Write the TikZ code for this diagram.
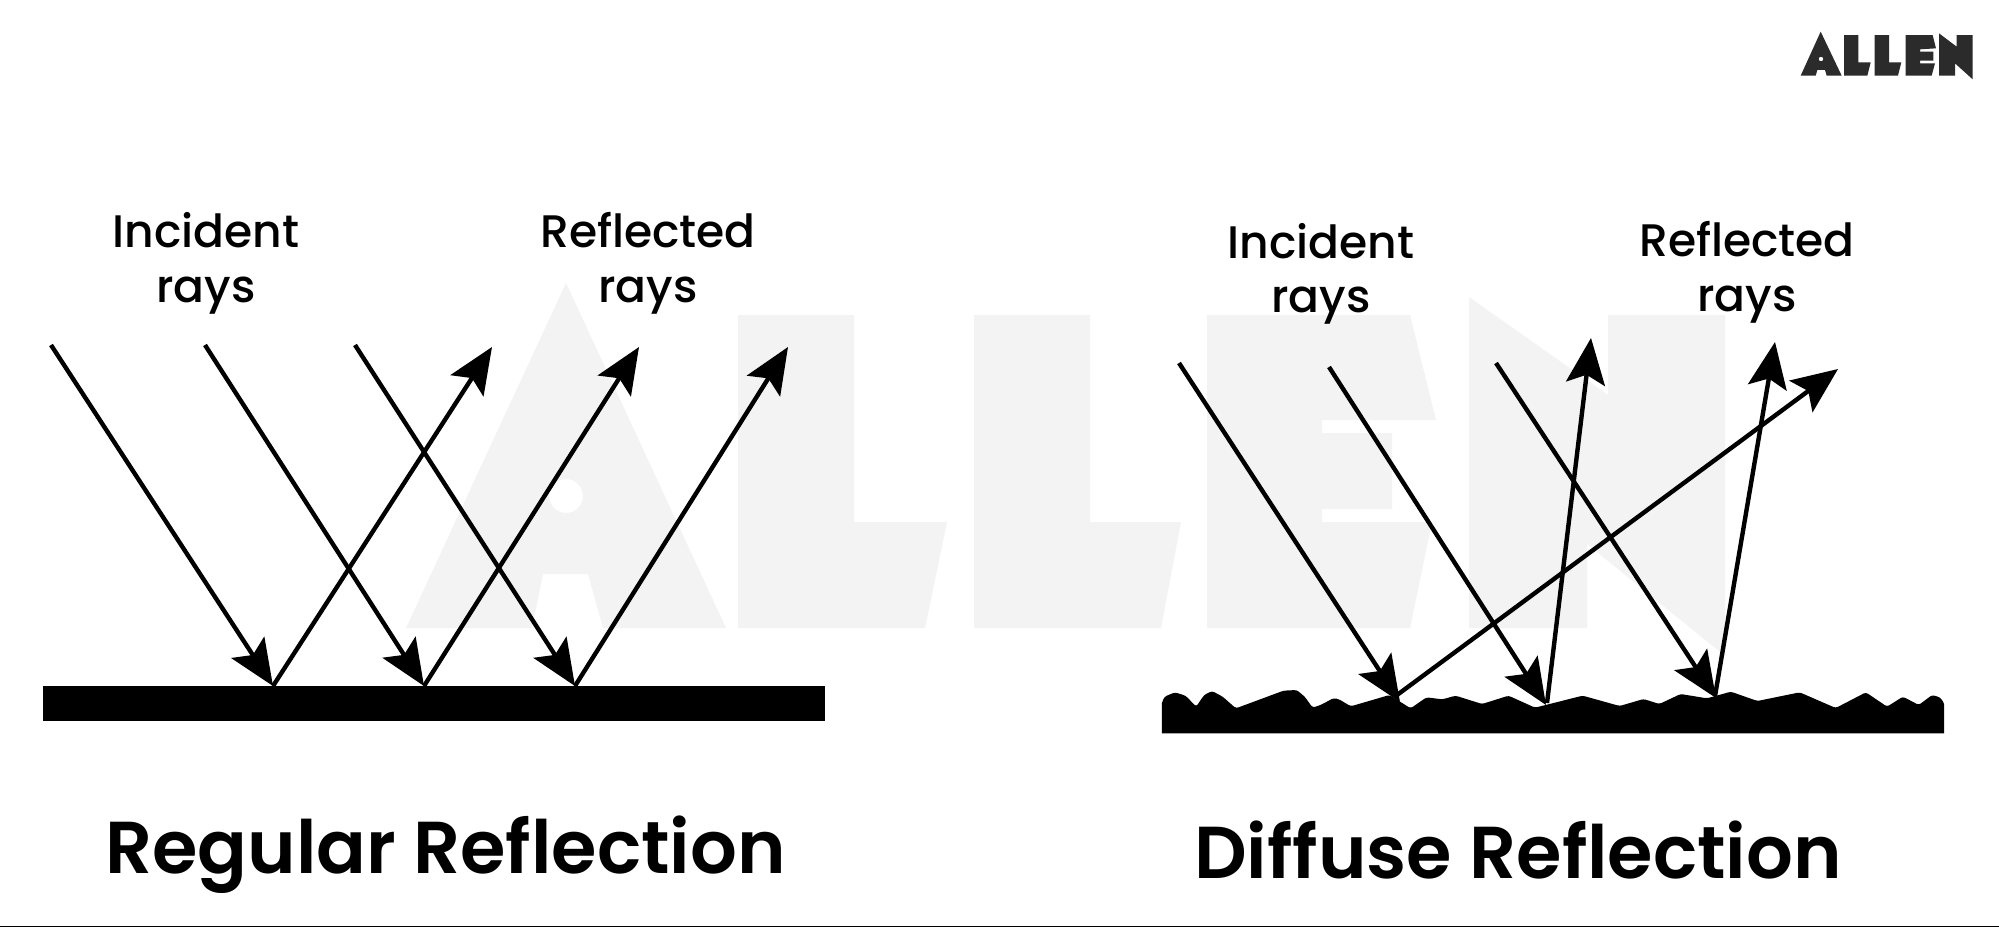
\documentclass[tikz,border=0pt]{standalone}
\usepackage{fontspec}
\setmainfont{Poppins}
\newfontfamily\labf{Poppins Medium}
\newfontfamily\ttlf{Poppins SemiBold}
\usetikzlibrary{arrows.meta}
\definecolor{wm}{HTML}{F3F3F3}
\definecolor{logoc}{HTML}{2B2B2B}
\tikzset{
  ray/.style={line width=4.4pt,black,-{Stealth[length=46pt,width=39pt,inset=9pt]}},
  lab/.style={anchor=base,inner sep=0pt,font=\labf\fontsize{45.6}{45.6}\selectfont},
  ttl/.style={anchor=base,inner sep=0pt,font=\ttlf\fontsize{73.5}{73.5}\selectfont},
}
\begin{document}
\begin{tikzpicture}[x=1pt,y=-1pt]
\useasboundingbox (0,0) rectangle (1999,927);
\fill[white] (0,0) rectangle (1999,927);
% watermark
\fill[wm,even odd rule] (566,283)--(726,628)--(603,628)--(588,574)--(543,574)--(532,628)--(406,628)--cycle (566,496) circle (17);
\fill[wm] (738,315)--(854,315)--(854,522)--(947,522)--(925,628)--(738,628)--cycle;
\fill[wm] (974,315)--(1090,315)--(1090,522)--(1181,522)--(1161,628)--(974,628)--cycle;
\fill[wm] (1207,315)--(1410,315)--(1436,420)--(1322,420)--(1322,433)--(1392,433)--(1392,509)--(1322,509)--(1322,522)--(1432,522)--(1410,628)--(1207,628)--cycle;
\fill[wm] (1469,297)--(1608,395)--(1608,315)--(1725,315)--(1725,656)--(1587,544)--(1587,628)--(1469,628)--cycle;
% logo
\begin{scope}[shift={(1780,10)},x=.3333pt,y=-.3333pt]
\fill[logoc,even odd rule] (122,65)--(185,197)--(140,197)--(135,180)--(112,180)--(107,197)--(62,197)--cycle (123,147) circle (7);
\fill[logoc] (192,75)--(235,75)--(235,157)--(272,157)--(262,197)--(192,197)--cycle;
\fill[logoc] (284,75)--(327,75)--(327,157)--(364,157)--(354,197)--(284,197)--cycle;
\fill[logoc] (377,75)--(458,75)--(468,115)--(420,118)--(420,125)--(460,125)--(460,152)--(420,152)--(420,160)--(465,160)--(455,197)--(377,197)--cycle;
\fill[logoc] (477,70)--(530,110)--(530,75)--(578,75)--(578,208)--(525,160)--(525,197)--(477,197)--cycle;
\end{scope}
% regular
\node[fill=black,inner sep=0pt,anchor=north west,minimum width=782pt,minimum height=35pt] (mirror) at (43,686) {};
\coordinate (h1) at (273,686); \coordinate (h2) at (424,686); \coordinate (h3) at (575,686);
\coordinate (i1) at (51,345); \coordinate (i2) at (205,345); \coordinate (i3) at (355,345);
\coordinate (r1) at (492,347); \coordinate (r2) at (639,347); \coordinate (r3) at (788,347);
\draw[ray] (i1)--(h1); \draw[ray] (i2)--(h2); \draw[ray] (i3)--(h3);
\draw[ray] (h1)--(r1); \draw[ray] (h2)--(r2); \draw[ray] (h3)--(r3);
% rough surface
\begin{scope}[shift={(1130,640)},x=.5294pt,y=-.3333pt]
\fill[black,rounded corners=2.5pt] (60,190)--(65,170)--(85,157)--(105,167)--(125,200)--(140,165)--(155,153)--(175,170)--(200,205)--(290,152)--(315,150)--(330,170)--(345,203)--(360,195)--(385,174)--(395,178)--(417,199)--(490,165)--(510,185)--(530,205)--(560,172)--(590,178)--(615,167)--(665,192)--(715,167)--(765,203)--(855,167)--(925,198)--(970,177)--(1000,192)--(1040,162)--(1090,175)--(1135,155)--(1185,183)--(1265,157)--(1333,204)--(1390,157)--(1430,200)--(1460,170)--(1490,195)--(1515,165)--(1530,172)--(1538,190) [sharp corners] --(1538,280)--(60,280)--cycle;
\end{scope}
\coordinate (H1) at (1397,695); \coordinate (H2) at (1547,703); \coordinate (H3) at (1715,696);
\coordinate (T1) at (1400,702); \coordinate (T2) at (1546,705); \coordinate (T3) at (1716,698);
\coordinate (I1) at (1179,363); \coordinate (I2) at (1329,367); \coordinate (I3) at (1496,363);
\coordinate (R1) at (1838,369); \coordinate (R2) at (1591,338); \coordinate (R3) at (1775,342);
\draw[ray] (I1)--(T1); \draw[ray] (I2)--(T2); \draw[ray] (I3)--(T3);
\draw[ray] (H1)--(R1); \draw[ray] (H2)--(R2); \draw[ray] (H3)--(R3);
% labels
\node[lab] (a1) at (206,247) {Incident};
\node[lab] (a2) at (206,302) {rays};
\node[lab] (b1) at (648,247) {Reflected};
\node[lab] (b2) at (648,302) {rays};
\node[lab] (c1) at (1321,258) {Incident};
\node[lab] (c2) at (1321,312) {rays};
\node[lab] (d1) at (1747,256) {Reflected};
\node[lab] (d2) at (1747,311) {rays};
\node[ttl] (t1) at (445.5,873) {Regular Reflection};
\node[ttl] (t2) at (1518,878) {Diffuse Reflection};
% bottom edge
\fill[black] (0,925.7) rectangle (1999,927);
\end{tikzpicture}
\end{document}
